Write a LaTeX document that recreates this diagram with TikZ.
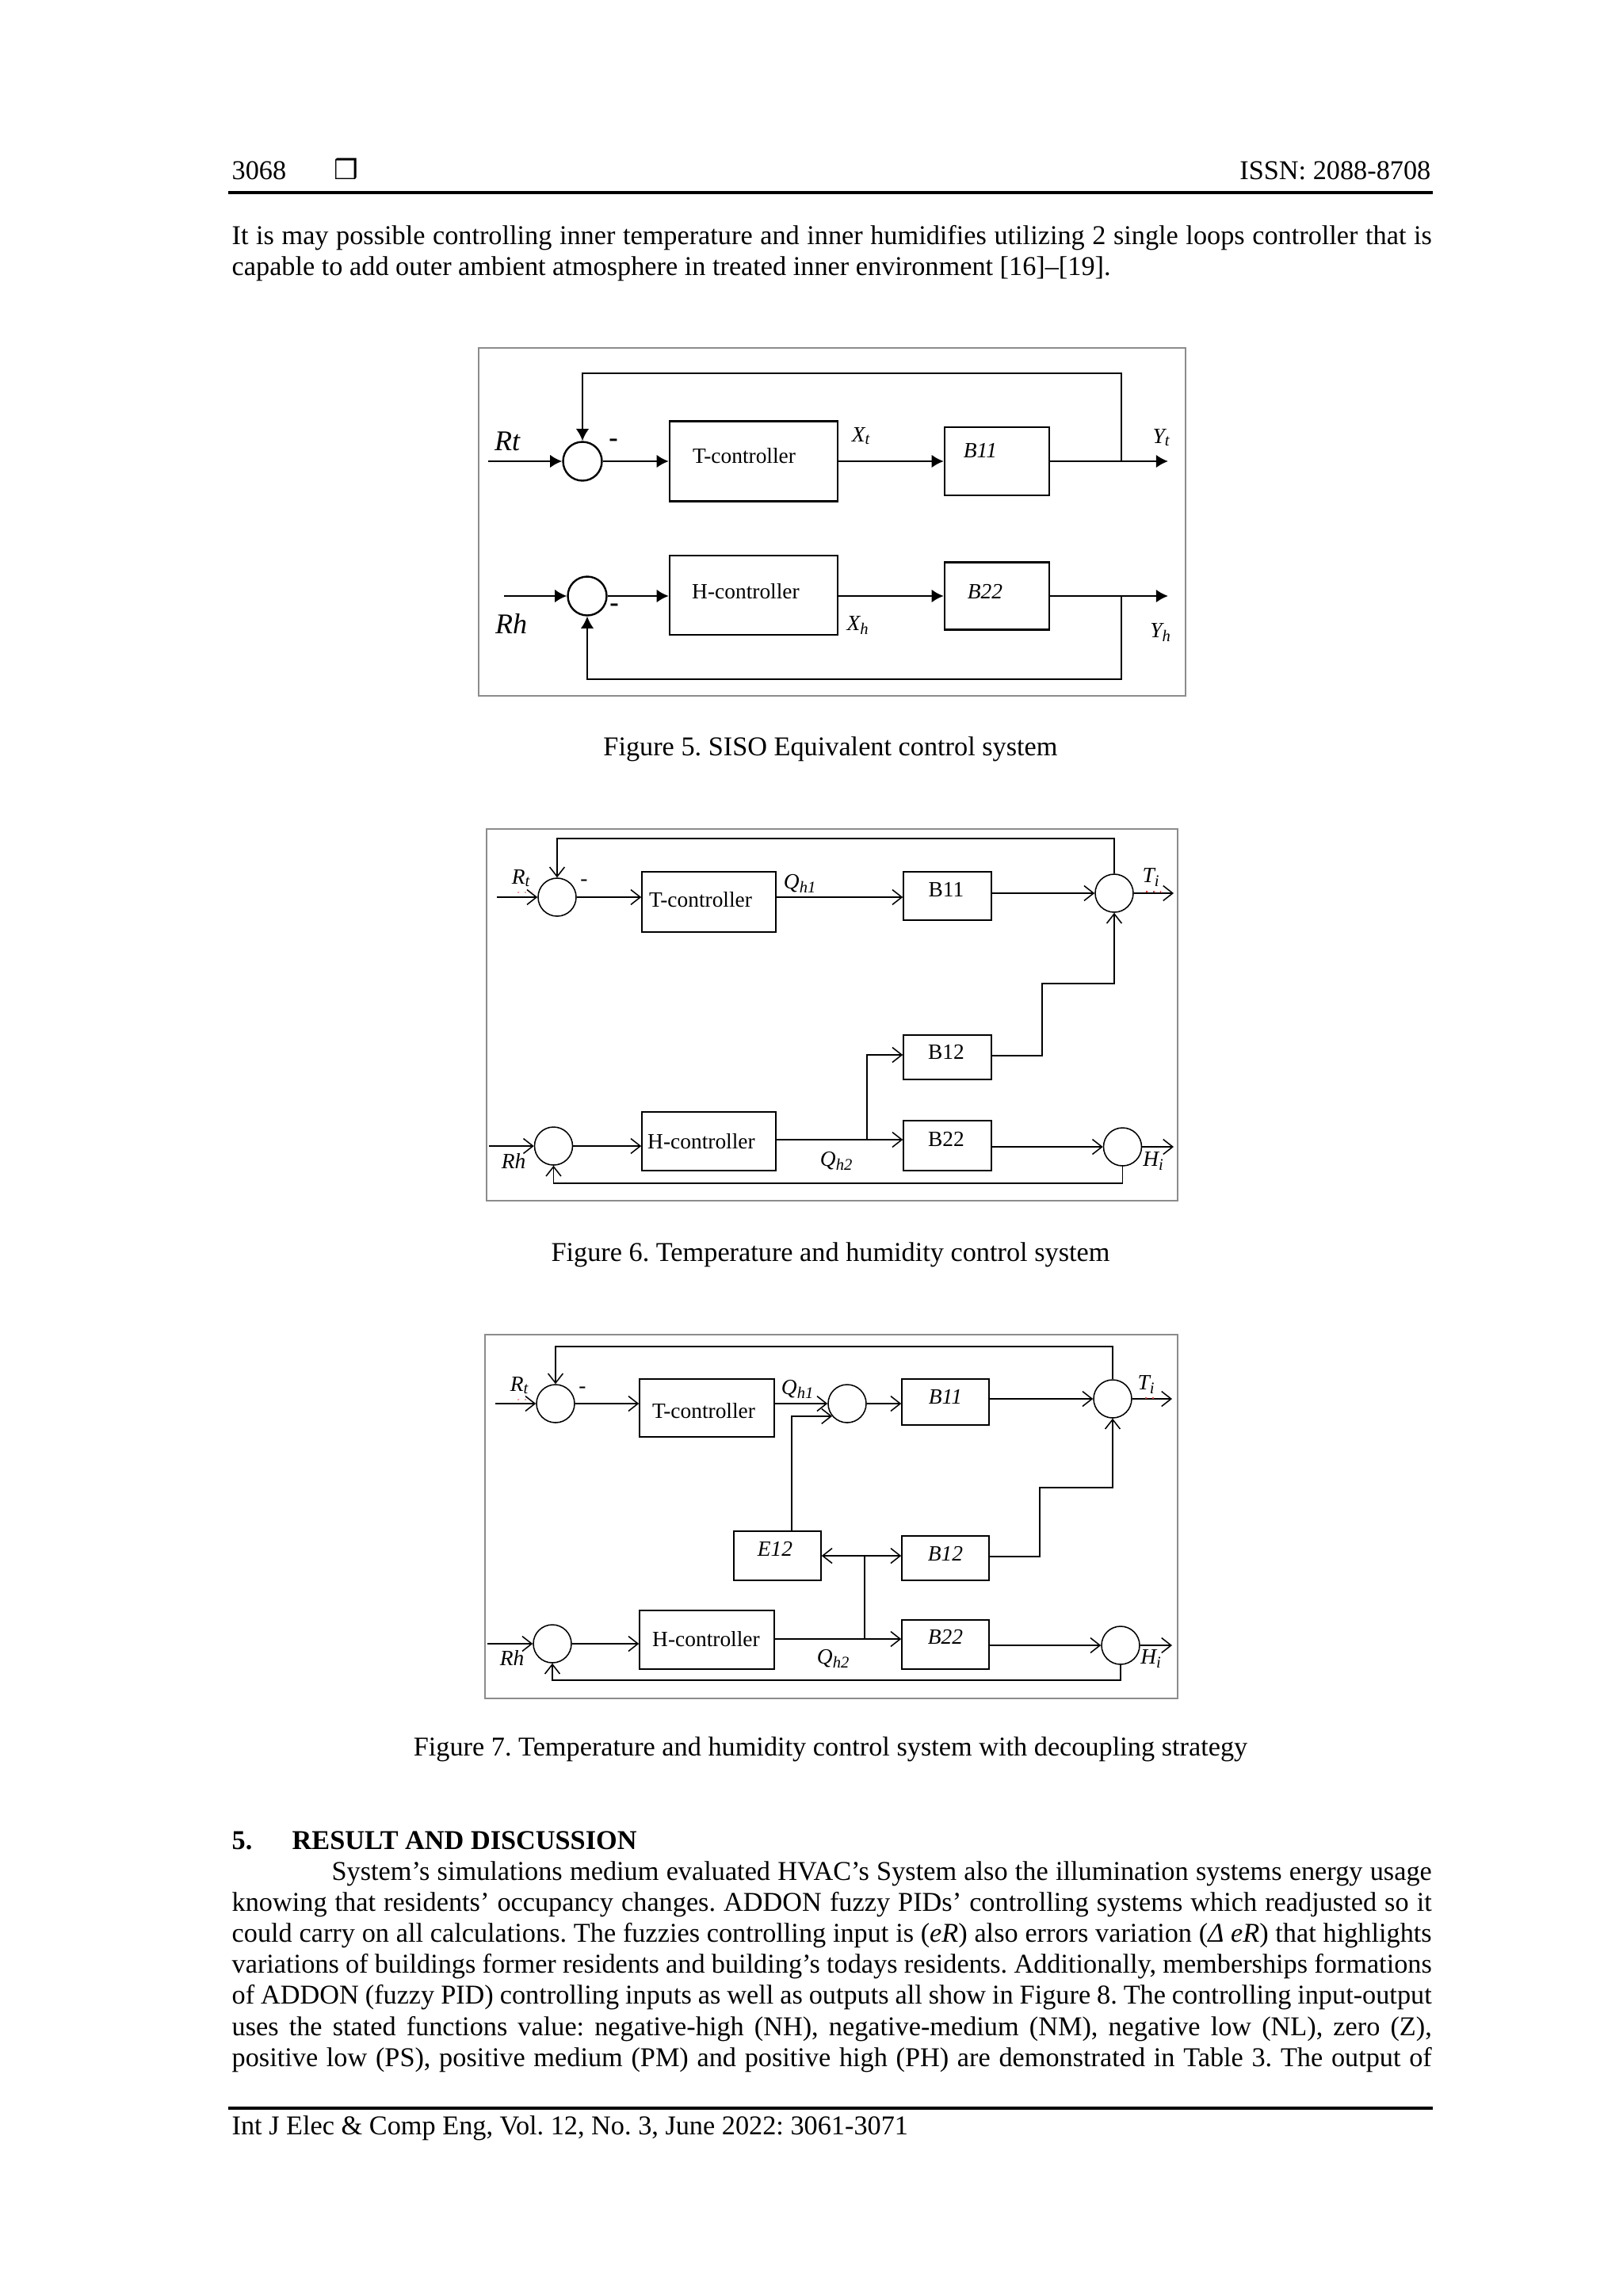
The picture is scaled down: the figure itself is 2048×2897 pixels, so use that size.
\documentclass[tikz,border=0pt]{standalone}
\usepackage{fontspec}
\setmainfont{Liberation Serif}
\newfontfamily\symfont{DejaVu Sans}
\usetikzlibrary{arrows.meta,calc}
\frenchspacing
\begin{document}
\frenchspacing
\begin{tikzpicture}[x=0.010254cm,y=-0.010254cm,
  lbl/.style={inner sep=0,font=\fontsize{8}{9.6}\selectfont},
  big/.style={inner sep=0,font=\fontsize{10.5}{12}\selectfont\itshape},
  txt/.style={anchor=base west,inner sep=0,font=\fontsize{10}{12}\selectfont},
  blk/.style 2 args={draw,rectangle,inner sep=0,minimum width=#1*0.010254cm,minimum height=#2*0.010254cm},
  sumc/.style={draw,circle,inner sep=0,minimum size=#1*0.010254cm},
  frame/.style={draw=black!45,line width=0.45pt},
  fa/.style={-{Latex[length=4.4pt,width=4.8pt]}},
  ba/.style={-{Straight Barb[length=3.5pt,width=5.5pt]}},
  spell/.style={draw=red!80,line width=0.6pt,dotted},
]
\fill[white] (0,0) rectangle (2048,2897);
\useasboundingbox (0,0) rectangle (2048,2897);

% ---------- header ----------
\node[txt] (pg) at (292,226) {3068};
\node[txt,font=\symfont\fontsize{10}{12}\selectfont] (sq) at (421,226) {❒};
\node[txt,anchor=base east] (issn) at (1806,226) {ISSN: 2088-8708};
\draw[line width=1pt] (288,243) -- (1808,243);

% ---------- paragraph 1 ----------
\node[txt] (p1a) at (292,308) {\makebox[15.525cm][s]{It is may possible controlling inner temperature and inner humidifies utilizing 2 single loops controller that is}};
\node[txt] (p1b) at (292,347) {capable to add outer ambient atmosphere in treated inner environment [16]–[19].};

% ---------- Figure 5 ----------
\draw[frame] (604,439) rectangle (1496,878);
\begin{scope}[line width=0.7pt]
\node[sumc=49] (f5s1) at (735,582) {};
\node[sumc=49] (f5s2) at (741,752) {};
\node[blk={212}{101}] (f5tc) at (951,582) {};
\node[lbl] (f5tct) at (939,575) {T-controller};
\node[blk={132}{86}] (f5b11) at (1258,582) {};
\node[lbl] (f5b11t) at (1237,568) {\itshape B11};
\node[blk={212}{100}] (f5hc) at (951,751) {};
\node[lbl] (f5hct) at (941,746) {H-controller};
\node[blk={132}{85}] (f5b22) at (1258,752) {};
\node[lbl] (f5b22t) at (1243,746) {\itshape B22};
\coordinate (f5in1) at (616,582);
\coordinate (f5out1) at (1474,582);
\coordinate (f5j1) at (1415,582);
\coordinate (f5c1) at (1415,471);
\coordinate (f5c2) at (735,471);
\coordinate (f5in2) at (636,752);
\coordinate (f5out2) at (1474,752);
\coordinate (f5j2) at (1415,752);
\coordinate (f5c3) at (1415,857);
\coordinate (f5c4) at (741,857);
\draw[fa] (f5in1) -- (f5s1);
\draw[fa] (f5s1) -- (f5tc);
\draw[fa] (f5tc) -- (f5b11);
\draw[fa] (f5b11) -- (f5out1);
\draw[fa] (f5j1) -- (f5c1) -- (f5c2) -- (f5s1);
\draw[fa] (f5in2) -- (f5s2);
\draw[fa] (f5s2.east) -- (f5s2.east -| f5hc.west);
\draw[fa] (f5hc.east |- f5b22) -- (f5b22);
\draw[fa] (f5b22) -- (f5out2);
\draw[fa] (f5j2) -- (f5c3) -- (f5c4) -- (f5s2);
\end{scope}
\node[big] (f5rt) at (640,557) {Rt};
\node[big] (f5rh) at (645,787) {Rh};
\node[lbl,font=\fontsize{10}{12}\selectfont\bfseries] (f5m1) at (774,559) {-};
\node[lbl,font=\fontsize{10}{12}\selectfont\bfseries] (f5m2) at (775,767) {-};
\node[lbl] (f5xt) at (1087,550) {\itshape X\textsubscript{t}};
\node[lbl] (f5yt) at (1466,552) {\itshape Y\textsubscript{t}};
\node[lbl] (f5xh) at (1083,789) {\itshape X\textsubscript{h}};
\node[lbl] (f5yh) at (1465,798) {\itshape Y\textsubscript{h}};
\node[txt,anchor=base] (cap5) at (1048,953) {Figure 5. SISO Equivalent control system};

% ---------- Figure 6 ----------
\draw[frame] (614,1046) rectangle (1486,1515);
\begin{scope}[line width=0.45pt]
\node[sumc=48] (f6s1) at (703,1132) {};
\node[sumc=48] (f6s2) at (698.5,1446) {};
\node[sumc=48] (f6s3) at (1406,1127) {};
\node[sumc=48] (f6s4) at (1416.5,1447) {};
\node[blk={169}{76}] (f6tc) at (894.5,1138) {};
\node[lbl] (f6tct) at (884,1135) {T-controller};
\node[blk={111}{61}] (f6b11) at (1195.5,1130.5) {};
\node[lbl] (f6b11t) at (1194,1122) {B11};
\node[blk={169}{74}] (f6hc) at (894.5,1440) {};
\node[lbl] (f6hct) at (885,1440) {H-controller};
\node[blk={111}{56}] (f6b12) at (1195.5,1334) {};
\node[lbl] (f6b12t) at (1194,1327) {B12};
\node[blk={111}{63}] (f6b22) at (1195.5,1445.5) {};
\node[lbl] (f6b22t) at (1194,1437) {B22};
\coordinate (f6in1) at (627,1132);
\coordinate (f6out1) at (1481,1127);
\coordinate (f6c2) at (703,1058);
\coordinate (f6in2) at (617,1446);
\coordinate (f6j) at (1094,1438);
\coordinate (f6k) at (1094,1331);
\coordinate (f6m1) at (1315,1332);
\coordinate (f6m2) at (1315,1241);
\coordinate (f6m3) at (1406,1241);
\coordinate (f6out2) at (1481,1447);
\coordinate (f6c4) at (698.5,1493);
\draw[ba] (f6in1) -- (f6s1);
\draw[ba] (f6s1.east) -- (f6s1.east -| f6tc.west);
\draw[ba] (f6tc.east |- f6s1) -- (f6b11.west |- f6s1);
\draw[ba] (f6b11.east |- f6s3) -- (f6s3.west);
\draw[ba] (f6s3.east) -- (f6out1);
\draw[ba] (f6s3.north) |- (f6c2) -- (f6s1.north);
\draw[ba] (f6in2) -- (f6s2);
\draw[ba] (f6s2.east) -- (f6s2.east -| f6hc.west);
\draw[ba] (f6hc.east |- f6j) -- (f6b22.west |- f6j);
\draw[ba] (f6j) -- (f6k) -- (f6b12.west |- f6k);
\draw[ba] (f6b12.east |- f6m1) -- (f6m1) -- (f6m2) -- (f6m3) -- (f6s3.south);
\draw[ba] (f6b22.east |- f6s4) -- (f6s4.west);
\draw[ba] (f6s4.east) -- (f6out2);
\draw[ba] (f6s4.south) |- (f6c4) -- (f6s2.south);
\end{scope}
\node[lbl] (f6rt) at (658,1108) {\itshape R\textsubscript{t}};
\node[lbl] (f6m) at (737,1114) {-};
\node[lbl] (f6q1) at (1010,1115) {\itshape Q\textsubscript{h1}};
\node[lbl] (f6ti) at (1453,1107) {\itshape T\textsubscript{i}};
\node[lbl] (f6rh) at (648,1465) {\itshape Rh};
\node[lbl] (f6q2) at (1056,1465) {\itshape Q\textsubscript{h2}};
\node[lbl] (f6hi) at (1456,1465) {\itshape H\textsubscript{i}};
\draw[spell] (1446,1125) -- (1464,1125);
\draw[spell,draw=red!40] (653,1126) -- (671,1126);
\node[txt,anchor=base] (cap6) at (1048,1591) {Figure 6. Temperature and humidity control system};

% ---------- Figure 7 ----------
\draw[frame] (612,1684) rectangle (1486,2143);
\begin{scope}[line width=0.45pt]
\node[sumc=48] (f7s1) at (701,1771) {};
\node[sumc=48] (f7sm) at (1069,1771) {};
\node[sumc=48] (f7s3) at (1404,1765) {};
\node[sumc=48] (f7s2) at (697,2074) {};
\node[sumc=48] (f7s4) at (1414,2076) {};
\node[blk={170}{73}] (f7tc) at (892,1776.5) {};
\node[lbl] (f7tct) at (888,1780) {T-controller};
\node[blk={110}{58}] (f7b11) at (1193,1769) {};
\node[lbl] (f7b11t) at (1193,1762) {\itshape B11};
\node[blk={110}{62}] (f7e12) at (981,1963) {};
\node[lbl] (f7e12t) at (978,1954) {\itshape E12};
\node[blk={110}{56}] (f7b12) at (1193,1966) {};
\node[lbl] (f7b12t) at (1193,1960) {\itshape B12};
\node[blk={170}{74}] (f7hc) at (892,2069) {};
\node[lbl] (f7hct) at (891,2068) {H-controller};
\node[blk={110}{62}] (f7b22) at (1193,2075) {};
\node[lbl] (f7b22t) at (1193,2065) {\itshape B22};
\coordinate (f7in1) at (625,1771);
\coordinate (f7out1) at (1479,1765);
\coordinate (f7c2) at (701,1699);
\coordinate (f7e) at (999,1932);
\coordinate (f7j) at (1091,1963);
\coordinate (f7j2) at (1091,2068);
\coordinate (f7m1) at (1312,1964);
\coordinate (f7m2) at (1312,1877);
\coordinate (f7m3) at (1404,1877);
\coordinate (f7in2) at (615,2074);
\coordinate (f7out2) at (1479,2076);
\coordinate (f7c4) at (697,2120);
\draw[ba] (f7in1) -- (f7s1);
\draw[ba] (f7s1.east) -- (f7s1.east -| f7tc.west);
\draw[ba] (f7tc.east |- f7sm) -- (f7sm.west);
\draw[ba] (f7sm.east) -- (f7sm.east -| f7b11.west);
\draw[ba] (f7b11.east |- f7s3) -- (f7s3.west);
\draw[ba] (f7s3.east) -- (f7out1);
\draw[ba] (f7s3.north) |- (f7c2) -- (f7s1.north);
\draw[ba] (f7e) |- (f7sm.220);
\draw (f7j2) -- (f7j);
\draw[ba] (f7j) -- (f7e12.east |- f7j);
\draw[ba] (f7j) -- (f7b12.west |- f7j);
\draw[ba] (f7b12.east |- f7m1) -- (f7m1) -- (f7m2) -- (f7m3) -- (f7s3.south);
\draw[ba] (f7in2) -- (f7s2);
\draw[ba] (f7s2.east) -- (f7s2.east -| f7hc.west);
\draw[ba] (f7hc.east |- f7j2) -- (f7b22.west |- f7j2);
\draw[ba] (f7b22.east |- f7s4) -- (f7s4.west);
\draw[ba] (f7s4.east) -- (f7out2);
\draw[ba] (f7s4.south) |- (f7c4) -- (f7s2.south);
\end{scope}
\node[lbl] (f7rt) at (656,1748) {\itshape R\textsubscript{t}};
\node[lbl] (f7m) at (735,1754) {-};
\node[lbl] (f7q1) at (1007,1753) {\itshape Q\textsubscript{h1}};
\node[lbl] (f7ti) at (1447,1747) {\itshape T\textsubscript{i}};
\node[lbl] (f7rh) at (646,2092) {\itshape Rh};
\node[lbl] (f7q2) at (1052,2093) {\itshape Q\textsubscript{h2}};
\node[lbl] (f7hi) at (1453,2093) {\itshape H\textsubscript{i}};
\draw[spell] (1445,1764) -- (1461,1764);
\draw[spell,draw=red!40] (653,1766) -- (670,1766);
\node[txt,anchor=base] (cap7) at (1048,2215) {Figure 7. Temperature and humidity control system with decoupling strategy};

% ---------- section 5 ----------
\node[txt,font=\fontsize{10}{12}\selectfont\bfseries] (h5n) at (292,2333) {5.};
\node[txt,font=\fontsize{10}{12}\selectfont\bfseries] (h5t) at (368,2333) {RESULT AND DISCUSSION};
\node[txt] (l1) at (418,2372) {\makebox[14.233cm][s]{System’s simulations medium evaluated HVAC’s System also the illumination systems energy usage}};
\node[txt] (l2) at (292,2411.2) {\makebox[15.525cm][s]{knowing that residents’ occupancy changes. ADDON fuzzy PIDs’ controlling systems which readjusted so it}};
\node[txt] (l3) at (292,2450.4) {\makebox[15.525cm][s]{could carry on all calculations. The fuzzies controlling input is (\textit{eR}) also errors variation (\textit{Δ eR}) that highlights}};
\node[txt] (l4) at (292,2489.6) {\makebox[15.525cm][s]{variations of buildings former residents and building’s todays residents. Additionally, memberships formations}};
\node[txt] (l5) at (292,2528.8) {\makebox[15.525cm][s]{of ADDON (fuzzy PID) controlling inputs as well as outputs all show in Figure 8. The controlling input-output}};
\node[txt] (l6) at (292,2568) {\makebox[15.525cm][s]{uses the stated functions value: negative-high (NH), negative-medium (NM), negative low (NL), zero (Z),}};
\node[txt] (l7) at (292,2607.2) {\makebox[15.525cm][s]{positive low (PS), positive medium (PM) and positive high (PH) are demonstrated in Table 3. The output of}};

% ---------- footer ----------
\draw[line width=1pt] (288,2660) -- (1808,2660);
\node[txt] (foot) at (292,2693) {Int J Elec \& Comp Eng, Vol. 12, No. 3, June 2022: 3061-3071};
\end{tikzpicture}
\end{document}
